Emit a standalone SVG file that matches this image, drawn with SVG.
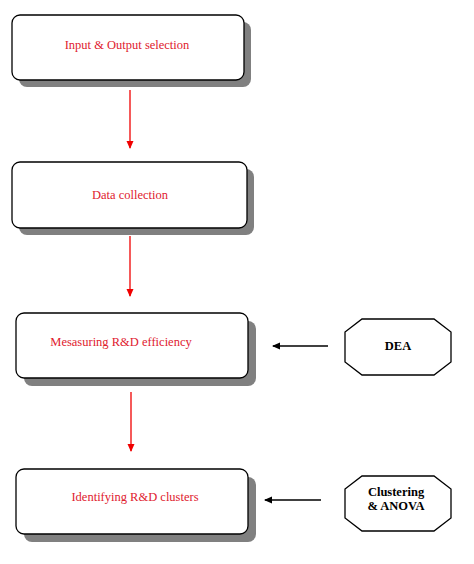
<svg xmlns="http://www.w3.org/2000/svg" width="474" height="564" viewBox="0 0 474 564">
<style>
.shadow{fill:#808080;stroke:none}
.box{fill:#fff;stroke:#000;stroke-width:1.3}
text{font-family:'Liberation Serif','Times New Roman',serif}
.lbl{font-size:12.5px;fill:#e0202e;text-anchor:middle}
.blk{font-size:12.5px;font-weight:bold;fill:#000;text-anchor:middle}
.red{stroke:#f00000;stroke-width:1.3;fill:none}
.black{stroke:#000;stroke-width:1.3;fill:none}
</style>
<defs>
<marker id="ar" markerWidth="8" markerHeight="8" refX="7" refY="4" orient="auto" markerUnits="userSpaceOnUse">
<path d="M0,0.5 L8,4 L0,7.5 Z" fill="#f00000"/>
</marker>
<marker id="ab" markerWidth="8" markerHeight="8" refX="7" refY="4" orient="auto" markerUnits="userSpaceOnUse">
<path d="M0,0.5 L8,4 L0,7.5 Z" fill="#000"/>
</marker>
</defs>
<rect width="474" height="564" fill="#fff"/>
<g id="n1">
<rect class="shadow" x="19" y="22" width="232" height="65" rx="8"/>
<rect class="box" x="12" y="15" width="232" height="65" rx="8"/>
<text class="lbl" x="127" y="49" font-family="Liberation Serif, serif">Input &amp; Output selection</text>
</g>
<g id="n2">
<rect class="shadow" x="19" y="169" width="235" height="66" rx="8"/>
<rect class="box" x="12" y="162" width="235" height="66" rx="8"/>
<text class="lbl" x="130" y="199" font-family="Liberation Serif, serif">Data collection</text>
</g>
<g id="n3">
<rect class="shadow" x="24" y="321" width="232" height="65" rx="8"/>
<rect class="box" x="16" y="313" width="232" height="65" rx="8"/>
<text class="lbl" x="121" y="346" font-family="Liberation Serif, serif">Mesasuring R&amp;D efficiency</text>
</g>
<g id="n4">
<rect class="shadow" x="24" y="477" width="232" height="65" rx="8"/>
<rect class="box" x="16" y="469" width="232" height="65" rx="8"/>
<text class="lbl" x="135" y="501" font-family="Liberation Serif, serif">Identifying R&amp;D clusters</text>
</g>
<g id="n5">
<polygon class="box" points="362,319 434,319 451,332 451,362 434,375 362,375 345,362 345,332"/>
<text class="blk" x="398" y="350" font-family="Liberation Serif, serif">DEA</text>
</g>
<g id="n6">
<polygon class="box" points="362,476 434,476 451,489 451,518 434,531 362,531 345,518 345,489"/>
<text class="blk" x="396" y="496" font-family="Liberation Serif, serif">Clustering</text>
<text class="blk" x="396" y="510" font-family="Liberation Serif, serif">&amp; ANOVA</text>
</g>
<g id="connectors">
<line class="red" x1="130" y1="90" x2="130" y2="148" marker-end="url(#ar)"/>
<line class="red" x1="130" y1="236" x2="130" y2="296" marker-end="url(#ar)"/>
<line class="red" x1="131" y1="392" x2="131" y2="451" marker-end="url(#ar)"/>
<line class="black" x1="328" y1="346" x2="273" y2="346" marker-end="url(#ab)"/>
<line class="black" x1="321" y1="500" x2="265" y2="500" marker-end="url(#ab)"/>
</g>
</svg>
